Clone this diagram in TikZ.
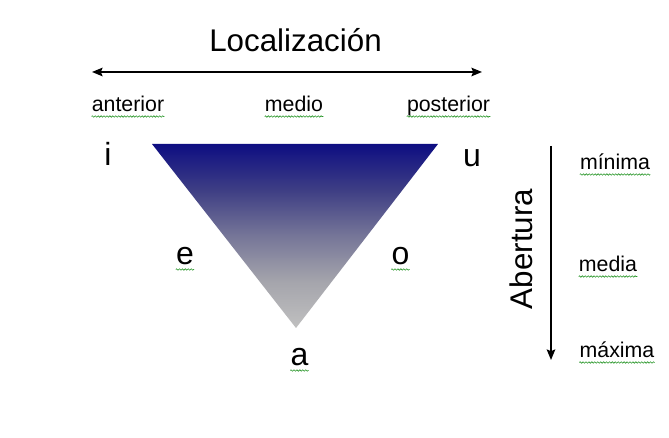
\documentclass[tikz,border=0pt]{standalone}
\usepackage{fontspec}
\setmainfont{Liberation Sans}
\usetikzlibrary{arrows.meta,calc,decorations.pathmorphing}
\definecolor{squiggreen}{RGB}{40,150,40}
\pgfdeclareverticalshading{trishade}{100bp}{%
  rgb(0bp)=(0.753,0.753,0.753);
  rgb(25bp)=(0.753,0.753,0.753);
  rgb(37.5bp)=(0.647,0.647,0.675);
  rgb(50bp)=(0.463,0.463,0.596);
  rgb(62.5bp)=(0.243,0.243,0.518);
  rgb(75bp)=(0.055,0.055,0.510);
  rgb(100bp)=(0.055,0.055,0.510)}
\tikzset{
  >={Stealth[length=8pt,width=6.5pt,inset=1.5pt]},
  title/.style={anchor=base,inner sep=0pt,font=\fontsize{23.5}{28}\selectfont},
  lbl/.style={anchor=base,inner sep=0pt,font=\fontsize{16}{19}\selectfont},
  vowel/.style={anchor=base,inner sep=0pt,font=\fontsize{24}{29}\selectfont},
  axis/.style={line width=1.2pt,draw=black},
  squig/.style={draw=squiggreen,line width=0.45pt,decorate,
    decoration={zigzag,segment length=2.2pt,amplitude=0.55pt}}
}
\newcommand{\squigunder}[1]{\draw[squig] ($(#1.base west)+(0,4.5)$) -- ($(#1.base east)+(0,4.5)$);}
\begin{document}
\begin{tikzpicture}[x=0.75pt,y=-0.75pt]
\useasboundingbox[fill=white] (0,0) rectangle (669,438);
% triangle
\coordinate (tl) at (152,144);
\coordinate (tr) at (438,144);
\coordinate (bt) at (296,328);
\shade[shading=trishade] (tl) -- (tr) -- (bt) -- cycle;
% title and horizontal axis
\node[title] (loc) at (295.5,52) {Localización};
\coordinate (hl) at (92,72);
\coordinate (hr) at (482,72);
\draw[axis,<->] (hl) -- (hr);
\node[lbl] (ant) at (128,112) {anterior};
\node[lbl] (med) at (294,112) {medio};
\node[lbl] (pos) at (448.5,112) {posterior};
% vowels
\node[vowel] (vi) at (108,166) {i};
\node[vowel] (vu) at (472,167) {u};
\node[vowel] (ve) at (185,265) {e};
\node[vowel] (vo) at (400.5,265) {o};
\node[vowel] (va) at (299.5,366) {a};
% vertical axis
\coordinate (vt) at (551,146);
\coordinate (vb) at (551,360);
\draw[axis,->] (vt) -- (vb);
\node[title,rotate=90,anchor=base] (abe) at (532,249) {Abertura};
\node[lbl] (min) at (615,170) {mínima};
\node[lbl] (mdi) at (608,272) {media};
\node[lbl] (max) at (617,358) {máxima};
% spell-check squiggles
\squigunder{ant}
\squigunder{med}
\squigunder{pos}
\squigunder{ve}
\squigunder{vo}
\squigunder{va}
\squigunder{min}
\squigunder{mdi}
\squigunder{max}
\end{tikzpicture}
\end{document}
